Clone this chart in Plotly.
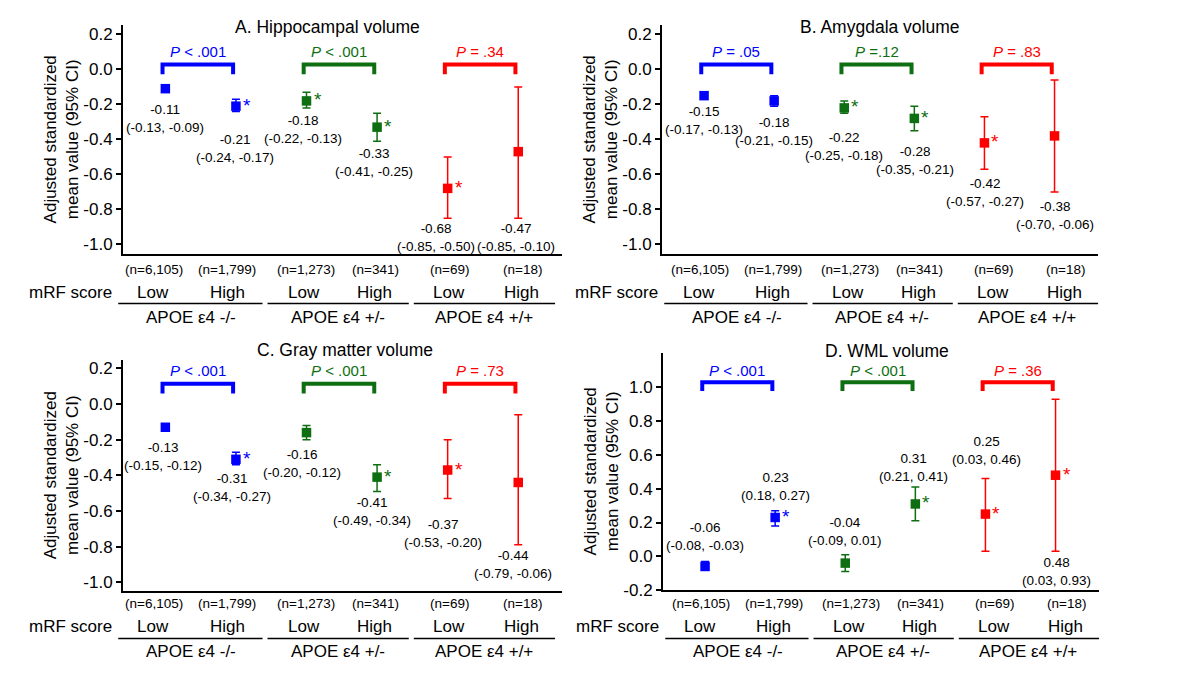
import plotly.graph_objects as go

# ---------------- data ----------------
MRF = ["Low", "High", "Low", "High", "Low", "High"]
N_LABELS = ["(n=6,105)", "(n=1,799)", "(n=1,273)", "(n=341)", "(n=69)", "(n=18)"]
GROUPS = ["APOE ε4 -/-", "APOE ε4 +/-", "APOE ε4 +/+"]

A_TITLE = "A. Hippocampal volume"
A_MEAN = [-0.11, -0.21, -0.18, -0.33, -0.68, -0.47]
A_LO = [-0.13, -0.24, -0.22, -0.41, -0.85, -0.85]
A_HI = [-0.09, -0.17, -0.13, -0.25, -0.50, -0.10]
A_STAR = [False, True, True, True, True, False]
A_P = ["< .001", "< .001", "= .34"]

B_TITLE = "B. Amygdala volume"
B_MEAN = [-0.15, -0.18, -0.22, -0.28, -0.42, -0.38]
B_LO = [-0.17, -0.21, -0.25, -0.35, -0.57, -0.70]
B_HI = [-0.13, -0.15, -0.18, -0.21, -0.27, -0.06]
B_STAR = [False, False, True, True, True, False]
B_P = ["= .05", "=.12", "= .83"]

C_TITLE = "C. Gray matter volume"
C_MEAN = [-0.13, -0.31, -0.16, -0.41, -0.37, -0.44]
C_LO = [-0.15, -0.34, -0.20, -0.49, -0.53, -0.79]
C_HI = [-0.12, -0.27, -0.12, -0.34, -0.20, -0.06]
C_STAR = [False, True, False, True, True, False]
C_P = ["< .001", "< .001", "= .73"]

D_TITLE = "D. WML volume"
D_MEAN = [-0.06, 0.23, -0.04, 0.31, 0.25, 0.48]
D_LO = [-0.08, 0.18, -0.09, 0.21, 0.03, 0.03]
D_HI = [-0.03, 0.27, 0.01, 0.41, 0.46, 0.93]
D_STAR = [False, True, False, True, True, True]
D_P = ["< .001", "< .001", "= .36"]

# ---------------- style / layout ----------------
FONT = "Arial, 'Liberation Sans', sans-serif"
COLORS = ["#0000FF", "#0E6E12", "#FF0000"]
W, H = 1200, 675
XR = [-0.6, 5.62]
PX_PER_IDX = 70.45

PANELS = [
    dict(title=A_TITLE, mean=A_MEAN, lo=A_LO, hi=A_HI, star=A_STAR, p=A_P,
         xpx=(123, 562), ypx=(25, 258), yr=[-1.056, 0.256],
         ticks=[0.2, 0.0, -0.2, -0.4, -0.6, -0.8, -1.0],
         br=(0.028, -0.028), py=0.101, tpos=(327, 27), rows=(16, 39, 50, 64), lshift=0,
         ly=[-0.282, -0.451, -0.346, -0.532, -0.963, -0.963],
         ldx=[0, -0.02, -0.05, -0.04, -0.16, -0.03]),
    dict(title=B_TITLE, mean=B_MEAN, lo=B_LO, hi=B_HI, star=B_STAR, p=B_P,
         xpx=(662, 1098), ypx=(25, 258), yr=[-1.056, 0.256],
         ticks=[0.2, 0.0, -0.2, -0.4, -0.6, -0.8, -1.0],
         br=(0.028, -0.028), py=0.101, tpos=(880, 27), rows=(16, 39, 50, 64), lshift=7,
         ly=[-0.29, -0.357, -0.443, -0.52, -0.706, -0.836],
         ldx=[0, 0, 0, 0.01, 0.01, 0.01]),
    dict(title=C_TITLE, mean=C_MEAN, lo=C_LO, hi=C_HI, star=C_STAR, p=C_P,
         xpx=(123, 562), ypx=(365, 600), yr=[-1.05, 0.25],
         ticks=[0.2, 0.0, -0.2, -0.4, -0.6, -0.8, -1.0],
         br=(0.115, 0.06), py=0.188, tpos=(345, 355), rows=(13, 36, 48, 61), lshift=0,
         ly=[-0.293, -0.471, -0.332, -0.605, -0.724, -0.90],
         ldx=[-0.03, -0.05, -0.06, -0.07, -0.06, -0.07]),
    dict(title=D_TITLE, mean=D_MEAN, lo=D_LO, hi=D_HI, star=D_STAR, p=D_P,
         xpx=(663, 1099), ypx=(358, 599), yr=[-0.2, 1.205],
         ticks=[1.0, 0.8, 0.6, 0.4, 0.2, 0.0, -0.2],
         br=(1.03, 0.978), py=1.097, tpos=(887, 356), rows=(14, 37, 49, 62), lshift=7,
         ly=[0.116, 0.416, 0.145, 0.528, 0.629, -0.087],
         ldx=[0, 0.01, 0, -0.02, 0.02, 0.01]),
]

# below-axis template, px offsets from first point (left panels)
N_OFF = [-11, 62, 140, 210, 284, 356]
LH_OFF = [-12, 62, 138, 209, 283, 355]
UL_OFF = [(-47, 97), (102, 243), (248, 389)]
AP_OFF = [26, 172, 318]

fig = go.Figure()
annotations = []
shapes = []
layout_axes = {}


def fmt(v):
    return f"{v:.2f}"


def ann(**kw):
    d = dict(showarrow=False, xanchor="center", yanchor="middle")
    d.update(kw)
    annotations.append(d)


for k, P in enumerate(PANELS):
    n = k + 1
    xa = "x" if n == 1 else f"x{n}"
    ya = "y" if n == 1 else f"y{n}"
    xdom = [P["xpx"][0] / W, P["xpx"][1] / W]
    ydom = [1 - P["ypx"][1] / H, 1 - P["ypx"][0] / H]

    def xpaper(idx, xdom=xdom):
        return xdom[0] + (idx - XR[0]) / (XR[1] - XR[0]) * (xdom[1] - xdom[0])

    def ypaper_below(off, P=P):
        return 1 - (P["ypx"][1] + off) / H

    layout_axes["xaxis" if n == 1 else f"xaxis{n}"] = dict(
        domain=xdom, range=XR, anchor=ya, showline=True, linecolor="black",
        linewidth=2, showticklabels=False, ticks="", showgrid=False, zeroline=False)
    layout_axes["yaxis" if n == 1 else f"yaxis{n}"] = dict(
        domain=ydom, range=P["yr"], anchor=xa, showline=True, linecolor="black",
        linewidth=2, showgrid=False, zeroline=False, ticks="outside", ticklen=5,
        tickwidth=1.5, tickcolor="black", tickvals=P["ticks"],
        ticktext=[f"{t:.1f}" for t in P["ticks"]],
        tickfont=dict(family=FONT, size=17, color="black"))

    for g in range(3):
        idx = [2 * g, 2 * g + 1]
        m = [P["mean"][i] for i in idx]
        fig.add_trace(go.Scatter(
            x=idx, y=m, xaxis=xa, yaxis=ya, mode="markers", showlegend=False,
            cliponaxis=False,
            marker=dict(symbol="square", size=9.5, color=COLORS[g]),
            error_y=dict(type="data", symmetric=False,
                         array=[P["hi"][i] - P["mean"][i] for i in idx],
                         arrayminus=[P["mean"][i] - P["lo"][i] for i in idx],
                         color=COLORS[g], thickness=1.5, width=4)))
        # bracket
        x0, x1 = 2 * g - 0.04, 2 * g + 0.96
        yt, yb = P["br"]
        shapes.append(dict(type="path", xref=xa, yref=ya,
                           path=f"M {x0},{yb} L {x0},{yt} L {x1},{yt} L {x1},{yb}",
                           line=dict(color=COLORS[g], width=4)))
        ann(xref=xa, yref=ya, x=2 * g + 0.46, y=P["py"],
            text=f"<i>P</i> {P['p'][g].replace('<', '&lt;')}",
            font=dict(family=FONT, size=15, color=COLORS[g]))
        # underline & group label
        u0, u1 = UL_OFF[g]
        shapes.append(dict(type="line", xref="paper", yref="paper",
                           x0=xpaper((u0 + P["lshift"]) / PX_PER_IDX),
                           x1=xpaper((u1 + P["lshift"]) / PX_PER_IDX),
                           y0=ypaper_below(P["rows"][2]), y1=ypaper_below(P["rows"][2]),
                           line=dict(color="black", width=1.5)))
        ann(xref=xa, yref="paper", x=(AP_OFF[g] + P["lshift"]) / PX_PER_IDX,
            y=ypaper_below(P["rows"][3]), text=GROUPS[g],
            font=dict(family=FONT, size=17, color="black"))

    for i in range(6):
        ann(xref=xa, yref=ya, x=i + P["ldx"][i], y=P["ly"][i],
            text=f"{fmt(P['mean'][i])}<br>({fmt(P['lo'][i])}, {fmt(P['hi'][i])})",
            font=dict(family=FONT, size=13.5, color="black"))
        if P["star"][i]:
            ann(xref=xa, yref=ya, x=i, y=P["mean"][i], xshift=11, yshift=1,
                text="*", font=dict(family=FONT, size=19, color=COLORS[i // 2]))
        ann(xref=xa, yref="paper", x=(N_OFF[i] + P["lshift"]) / PX_PER_IDX,
            y=ypaper_below(P["rows"][0]), text=N_LABELS[i],
            font=dict(family=FONT, size=13.5, color="black"))
        ann(xref=xa, yref="paper", x=(LH_OFF[i] + P["lshift"]) / PX_PER_IDX,
            y=ypaper_below(P["rows"][1]), text=MRF[i],
            font=dict(family=FONT, size=17, color="black"))

    ann(xref="paper", yref="paper", x=xdom[0] + (P["lshift"] - 9) / W,
        y=ypaper_below(P["rows"][1]), xanchor="right", text="mRF score",
        font=dict(family=FONT, size=17, color="black"))
    ann(xref="paper", yref="paper", x=xdom[0] - 62 / W, y=(ydom[0] + ydom[1]) / 2,
        textangle=-90, text="Adjusted standardized<br>mean value (95% CI)",
        font=dict(family=FONT, size=17, color="black"))
    ann(xref="paper", yref="paper", x=P["tpos"][0] / W, y=1 - P["tpos"][1] / H,
        text=P["title"], font=dict(family=FONT, size=17.5, color="black"))

fig.update_layout(
    width=W, height=H, margin=dict(l=0, r=0, t=0, b=0),
    paper_bgcolor="white", plot_bgcolor="white",
    font=dict(family=FONT, color="black"),
    annotations=annotations, shapes=shapes, showlegend=False,
    **layout_axes)

fig.write_html("out.html")
